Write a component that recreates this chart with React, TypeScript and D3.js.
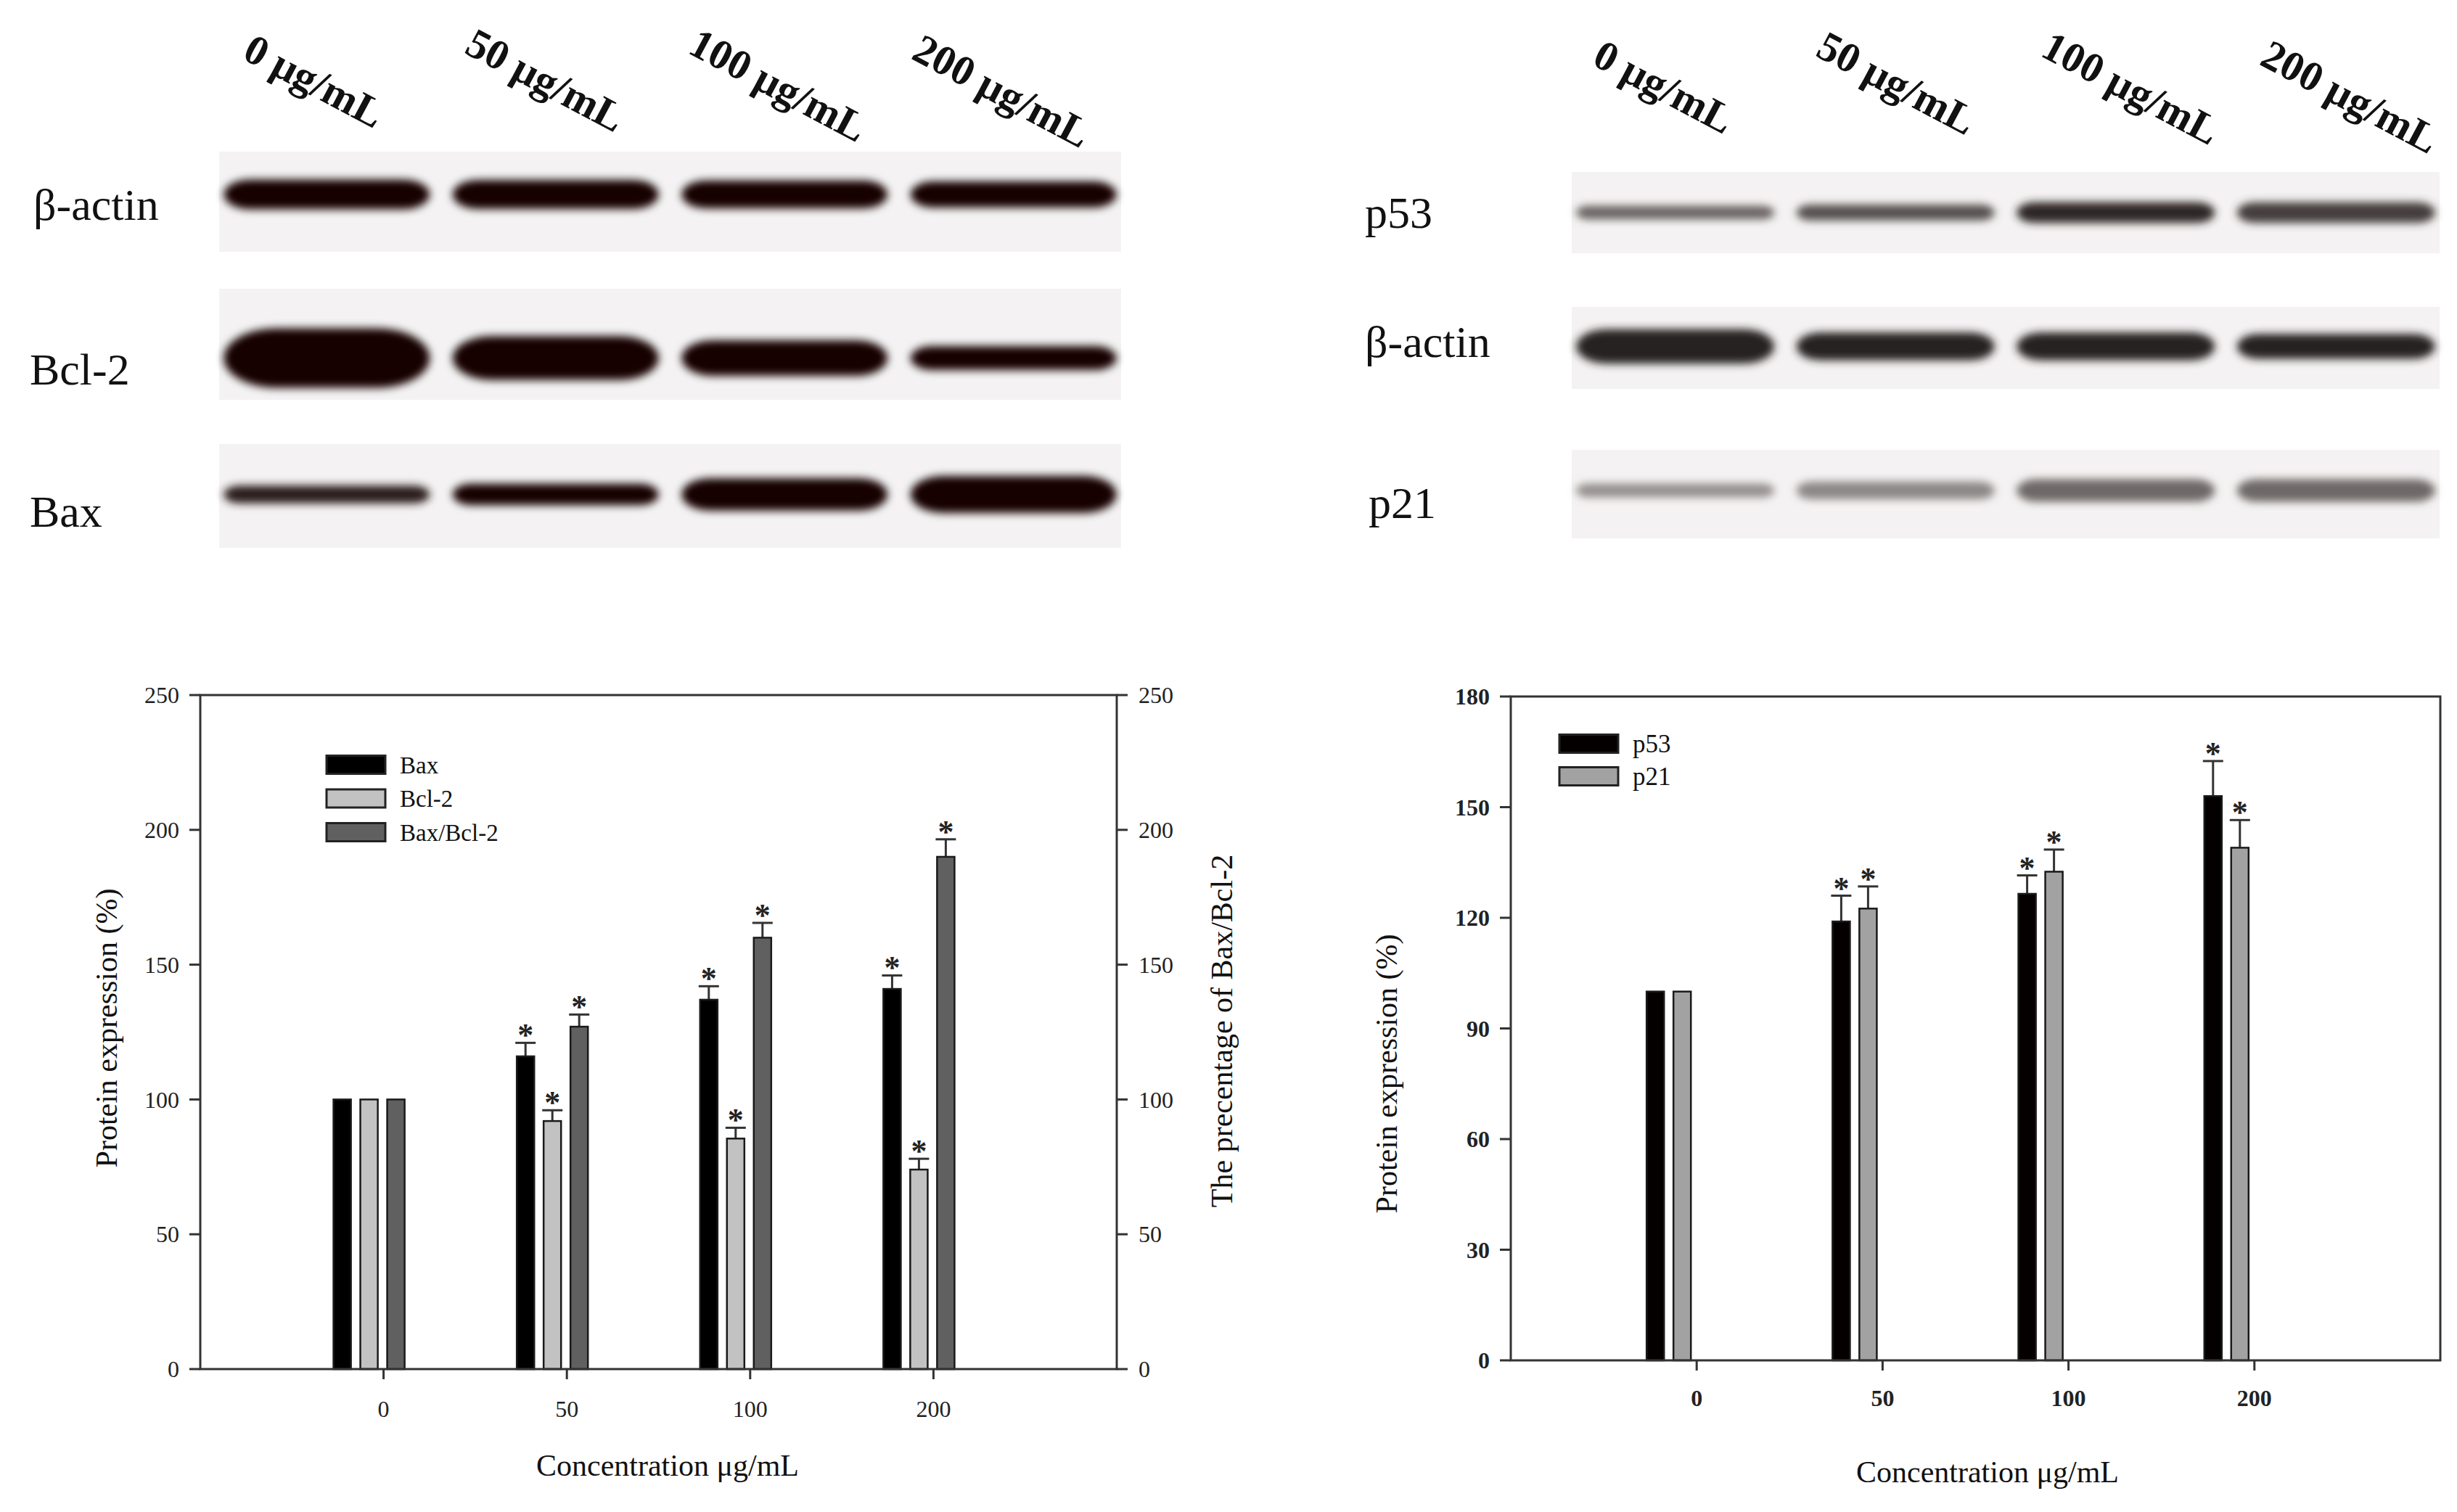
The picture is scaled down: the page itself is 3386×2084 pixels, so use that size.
import React from 'react';
import { scaleLinear, scaleBand, interpolateRgb } from 'd3';

const W = 3386;
const H = 2084;
const serif = '"Liberation Serif", "Times New Roman", serif';

// western blot lanes and band densities (arbitrary units)
const lanes = ['0 μg/mL', '50 μg/mL', '100 μg/mL', '200 μg/mL'];
const apoptosisRows = ['β-actin', 'Bcl-2', 'Bax'];
const apoptosisBands = [[50, 49, 47, 44], [100, 74, 60, 40], [30, 36, 54, 62]];
const apoptosisDensity = [[1, 1, 1, 1], [1, 1, 1, 1], [0.9, 1, 1, 1]];
const cycleRows = ['p53', 'β-actin', 'p21'];
const cycleBands = [[23, 27, 35, 35], [58, 47, 47, 42], [23, 30, 38, 38]];
const cycleDensity = [[0.6, 0.7, 0.92, 0.8], [0.95, 0.95, 0.95, 0.95], [0.38, 0.42, 0.58, 0.58]];

// quantification
const concentrations = ['0', '50', '100', '200'];
const baxValues = [100, 116, 137, 141];
const baxErrors = [0, 5, 5, 5];
const bcl2Values = [100, 92, 85.5, 74];
const bcl2Errors = [0, 4, 4, 4];
const ratioValues = [100, 127, 160, 190];
const ratioErrors = [0, 4.5, 5.5, 6.5];
const p53Values = [100, 119, 126.5, 153];
const p53Errors = [0, 7, 5, 9.5];
const p21Values = [100, 122.5, 132.5, 139];
const p21Errors = [0, 6, 6, 7.5];
const significant = [false, true, true, true];
const apoptosisTicks = [0, 50, 100, 150, 200, 250];
const cycleTicks = [0, 30, 60, 90, 120, 150, 180];

type Series = { name: string, values: number[], errors: number[], fill: string };

const bandThick = scaleLinear().domain([0, 100]).range([0, 82]);

function Blot(props: { x0: number, x1: number, rows: string[], bands: number[][], density: number[][], strips: [number, number, number][], labelPos: [number, number][], lanePos: [number, number][], dark: string, filterId: string }) {
    const lane = scaleBand<number>().domain([0, 1, 2, 3]).range([props.x0, props.x1]).paddingInner(0.1).paddingOuter(0.02);
    const color = interpolateRgb('#dcd8d8', props.dark);
    return (
        <g>
            <defs>
                <filter id={props.filterId} x='-20%' y='-100%' width='140%' height='300%'>
                    <feGaussianBlur stdDeviation='6' />
                </filter>
            </defs>
            {lanes.map((l, i) => (
                <text key={l} x={props.lanePos[i][0]} y={props.lanePos[i][1]} transform={`rotate(28 ${props.lanePos[i][0]} ${props.lanePos[i][1]})`}
                    fontFamily={serif} fontWeight='bold' fontSize={58} fill='#111'>{l}</text>
            ))}
            {props.rows.map((r, ri) => {
                const [top, bottom, off] = props.strips[ri];
                const cy = (top + bottom) / 2 + off;
                return (
                    <g key={r + ri}>
                        <rect x={props.x0} y={top} width={props.x1 - props.x0} height={bottom - top} fill='#f4f2f2' />
                        {props.bands[ri].map((v, li) => {
                            const h = bandThick(v);
                            return <rect key={li} x={lane(li)} y={cy - h / 2} width={lane.bandwidth()} height={h} rx={h * 0.9} ry={h / 2}
                                fill={color(props.density[ri][li])} filter={`url(#${props.filterId})`} />;
                        })}
                        <text x={props.labelPos[ri][0]} y={props.labelPos[ri][1]} dy='0.35em' fontFamily={serif} fontSize={62} fill='#111'>{r}</text>
                    </g>
                );
            })}
        </g>
    );
}

function BarChart(props: { x0: number, x1: number, y0: number, y1: number, yMax: number, ticks: number[], series: Series[], bold: boolean, right: boolean, legend: [number, number, number, number], yTitle: [number, number], xTitle: [number, number], xLabelDy: number }) {
    const { x0, x1, y0, y1 } = props;
    const x = scaleLinear().domain([0, 5]).range([x0, x1]);
    const y = scaleLinear().domain([0, props.yMax]).range([y1, y0]);
    const sub = scaleBand<string>().domain(props.series.map(s => s.name)).range([-75.5, -75.5 + 37 * props.series.length]).paddingInner(0.35).paddingOuter(0.175);
    const fw = props.bold ? 'bold' : 'normal';
    const axis = '#333';
    const [lx, ly, lstep, lfont] = props.legend;
    return (
        <g fontFamily={serif}>
            {props.series.map(s => (
                <g key={s.name}>
                    {s.values.map((v, i) => {
                        const cx = x(i + 1) + sub(s.name) + sub.bandwidth() / 2;
                        const top = v + s.errors[i];
                        return (
                            <g key={i}>
                                {s.errors[i] > 0 && <line x1={cx} x2={cx} y1={y(v)} y2={y(top)} stroke={axis} strokeWidth={3} />}
                                {s.errors[i] > 0 && <line x1={cx - 14} x2={cx + 14} y1={y(top)} y2={y(top)} stroke={axis} strokeWidth={3} />}
                                <rect x={cx - sub.bandwidth() / 2} y={y(v)} width={sub.bandwidth()} height={y1 - y(v)} fill={s.fill} stroke='#1a1a1a' strokeWidth={2.5} />
                                {significant[i] && <text x={cx} y={y(top) + 4} textAnchor='middle' fontWeight='bold' fontSize={44} fill='#222'>*</text>}
                            </g>
                        );
                    })}
                </g>
            ))}
            <rect x={x0} y={y0} width={x1 - x0} height={y1 - y0} fill='none' stroke={axis} strokeWidth={3} />
            {props.ticks.map(t => (
                <g key={t}>
                    <line x1={x0 - 15} x2={x0} y1={y(t)} y2={y(t)} stroke={axis} strokeWidth={3} />
                    <text x={x0 - 29} y={y(t)} dy='0.35em' textAnchor='end' fontSize={32} fontWeight={fw} fill='#222'>{t}</text>
                    {props.right && <line x1={x1} x2={x1 + 15} y1={y(t)} y2={y(t)} stroke={axis} strokeWidth={3} />}
                    {props.right && <text x={x1 + 30} y={y(t)} dy='0.35em' fontSize={32} fill='#222'>{t}</text>}
                </g>
            ))}
            {concentrations.map((c, i) => (
                <g key={c}>
                    <line x1={x(i + 1)} x2={x(i + 1)} y1={y1} y2={y1 + 14} stroke={axis} strokeWidth={3} />
                    <text x={x(i + 1)} y={y1 + props.xLabelDy} dy='0.35em' textAnchor='middle' fontSize={32} fontWeight={fw} fill='#222'>{c}</text>
                </g>
            ))}
            {props.series.map((s, i) => (
                <g key={s.name}>
                    <rect x={lx} y={ly + i * lstep - 12.5} width={81} height={25} fill={s.fill} stroke='#222' strokeWidth={3} />
                    <text x={lx + 101} y={ly + i * lstep} dy='0.35em' fontSize={lfont} fill='#111'>{s.name}</text>
                </g>
            ))}
            <text transform={`translate(${props.yTitle[0]} ${props.yTitle[1]}) rotate(-90)`} dy='0.35em' textAnchor='middle' fontSize={42} fill='#111'>Protein expression (%)</text>
            <text x={props.xTitle[0]} y={props.xTitle[1]} dy='0.35em' textAnchor='middle' fontSize={42} fill='#111'>Concentration μg/mL</text>
        </g>
    );
}

export default function App() {
    const apoptosis: Series[] = [
        { name: 'Bax', values: baxValues, errors: baxErrors, fill: '#000000' },
        { name: 'Bcl-2', values: bcl2Values, errors: bcl2Errors, fill: '#c2c2c2' },
        { name: 'Bax/Bcl-2', values: ratioValues, errors: ratioErrors, fill: '#606060' },
    ];
    const cycle: Series[] = [
        { name: 'p53', values: p53Values, errors: p53Errors, fill: '#050000' },
        { name: 'p21', values: p21Values, errors: p21Errors, fill: '#a2a2a2' },
    ];
    return (
        <svg width={W} height={H} style={{ position: 'absolute', left: 0, top: 0, background: '#fff' }}>
            <Blot x0={302} x1={1545} rows={apoptosisRows} bands={apoptosisBands} density={apoptosisDensity}
                strips={[[209, 347, -10], [398, 551, 19], [612, 755, -2]]}
                labelPos={[[46, 281], [41, 508], [41, 704]]}
                lanePos={[[332, 80], [638, 72], [946, 72], [1254, 80]]}
                dark='#160606' filterId='blurA' />
            <Blot x0={2166} x1={3362} rows={cycleRows} bands={cycleBands} density={cycleDensity}
                strips={[[237, 349, 0], [423, 536, -2], [620, 742, -5]]}
                labelPos={[[1881, 292], [1881, 470], [1886, 692]]}
                lanePos={[[2192, 88], [2500, 76], [2810, 76], [3112, 88]]}
                dark='#1e1616' filterId='blurB' />
            <BarChart x0={276} x1={1539} y0={958} y1={1887} yMax={250} ticks={apoptosisTicks} series={apoptosis} bold={false} right={true}
                legend={[450, 1054, 46.5, 33]} yTitle={[146, 1417]} xTitle={[920, 2019]} xLabelDy={55} />
            <text transform='translate(1683 1421) rotate(-90)' dy='0.35em' textAnchor='middle' fontFamily={serif} fontSize={42} fill='#111'>The precentage of Bax/Bcl-2</text>
            <BarChart x0={2082} x1={3363} y0={960} y1={1875} yMax={180} ticks={cycleTicks} series={cycle} bold={true} right={false}
                legend={[2149, 1025, 45, 35]} yTitle={[1910, 1480]} xTitle={[2739, 2028]} xLabelDy={52} />
        </svg>
    );
}
